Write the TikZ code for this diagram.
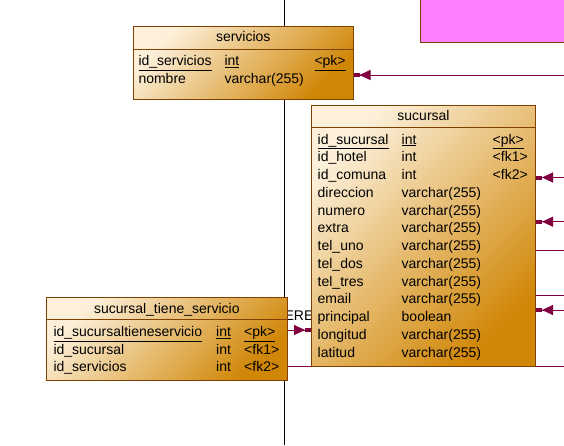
\documentclass[tikz,border=0pt]{standalone}
\usepackage{fontspec}
\setmainfont{Liberation Sans}
\usetikzlibrary{arrows.meta, positioning, backgrounds, calc}
\definecolor{tblborder}{RGB}{128,64,0}
\definecolor{tbllight}{RGB}{252,240,218}
\definecolor{tblmid}{RGB}{233,190,120}
\definecolor{tbldark}{RGB}{208,134,6}
\definecolor{fkcol}{RGB}{128,0,64}
\definecolor{pinkfill}{RGB}{255,128,255}
\tikzset{
    tablebox/.style={rectangle, draw=tblborder, line width=1pt, top color=tbllight, middle color=tblmid, bottom color=tbldark, shading angle=45, inner sep=0pt, anchor=north west},
    headline/.style={draw=tblborder, line width=1pt},
    cell/.style={anchor=base west, inner sep=0pt},
    ttl/.style={anchor=base, inner sep=0pt},
    fkarrow/.style={draw=fkcol, line width=1pt, -{Triangle[length=11pt,width=10pt]Rectangle[length=6pt,width=4pt]}},
    fkline/.style={draw=fkcol, line width=1pt},
}

\begin{document}
\begin{tikzpicture}[x=1pt, y=-1pt, font=\fontsize{14}{16}\selectfont]
\useasboundingbox (0,0) rectangle (564,445);

% tables
\node[tablebox, minimum width=219.5, minimum height=73] (serv) at (133,26) {};
\node[tablebox, minimum width=224, minimum height=261.5] (suc) at (311,104.5) {};
\node[tablebox, minimum width=240.7, minimum height=82.7] (sts) at (46,297.3) {};
\node[rectangle, draw=tblborder, line width=1pt, fill=pinkfill, minimum width=160, minimum height=60, anchor=south west] (pink) at (419.5,43) {};

\draw[headline] ([yshift=-23pt]serv.north west) -- ([yshift=-23pt]serv.north east);
\draw[headline] ([yshift=-23pt]suc.north west) -- ([yshift=-23pt]suc.north east);
\draw[headline] ([yshift=-22pt]sts.north west) -- ([yshift=-22pt]sts.north east);

\node[ttl] (serv-ttl) at ($(serv.north)+(0,15.7)$) {servicios};
\node[ttl] (suc-ttl) at ($(suc.north)+(0,15.5)$) {sucursal};
\node[ttl] (sts-ttl) at ($(sts.north)+(0,16)$) {sucursal\_tiene\_servicio};

\foreach \fn/\ft/\fk [count=\i from 0] in {
    {\underline{id\_servicios}}/{\underline{int}}/{\underline{<pk>}},
    nombre/varchar(255)/{}}{
    \node[cell] (serv-n\i) at ($(serv.north west)+(5.3,{39.7+17.7*\i})$) {\fn};
    \node[cell] (serv-t\i) at ($(serv.north west)+(91.3,{39.7+17.7*\i})$) {\ft};
    \node[cell] (serv-k\i) at ($(serv.north west)+(181.3,{39.7+17.7*\i})$) {\fk};
}

\foreach \fn/\ft/\fk [count=\i from 0] in {
    {\underline{id\_sucursal}}/{\underline{int}}/{\underline{<pk>}},
    id\_hotel/int/<fk1>,
    id\_comuna/int/<fk2>,
    direccion/varchar(255)/{},
    numero/varchar(255)/{},
    extra/varchar(255)/{},
    tel\_uno/varchar(255)/{},
    tel\_dos/varchar(255)/{},
    tel\_tres/varchar(255)/{},
    email/varchar(255)/{},
    principal/boolean/{},
    longitud/varchar(255)/{},
    latitud/varchar(255)/{}}{
    \node[cell] (suc-n\i) at ($(suc.north west)+(6.5,{39.5+17.75*\i})$) {\fn};
    \node[cell] (suc-t\i) at ($(suc.north west)+(90.5,{39.5+17.75*\i})$) {\ft};
    \node[cell] (suc-k\i) at ($(suc.north west)+(181.5,{39.5+17.75*\i})$) {\fk};
}

\foreach \fn/\ft/\fk [count=\i from 0] in {
    {\underline{id\_sucursaltieneservicio}}/{\underline{int}}/{\underline{<pk>}},
    id\_sucursal/int/<fk1>,
    id\_servicios/int/<fk2>}{
    \node[cell] (sts-n\i) at ($(sts.north west)+(7.3,{39.4+17.5*\i})$) {\fn};
    \node[cell] (sts-t\i) at ($(sts.north west)+(170,{39.4+17.5*\i})$) {\ft};
    \node[cell] (sts-k\i) at ($(sts.north west)+(198,{39.4+17.5*\i})$) {\fk};
}

% connectors
\coordinate (vtop) at (284.7,0);
\coordinate (vbot) at (284.7,445);
\coordinate (e1) at (564,75);
\coordinate (e2) at (564,177.5);
\coordinate (e3) at (564,221.7);
\coordinate (e4) at (564,250);
\coordinate (e5) at (564,295.3);
\coordinate (e6) at (564,310);
\coordinate (e7) at (564,366);
\coordinate (m1) at (298,330);

\begin{scope}[on background layer]
\draw[black, line width=1pt] (vtop) -- (vbot);
\draw[fkarrow] (e1) -- (e1 -| serv.east);
\draw[fkarrow] (e2) -- (e2 -| suc.east);
\draw[fkarrow] (e3) -- (e3 -| suc.east);
\draw[fkline] (e4) -- (e4 -| suc.east);
\draw[fkline] (e5) -- (e5 -| suc.east);
\draw[fkarrow] (e6) -- (e6 -| suc.east);
\draw[fkline] (e7) -- (e7 -| sts.east);
\draw[fkarrow] (m1 -| sts.east) -- (m1 -| suc.west);
\node[anchor=base, inner sep=0pt] (lbl-ref) at (299,320) {ERE};
\end{scope}

\end{tikzpicture}
\end{document}
